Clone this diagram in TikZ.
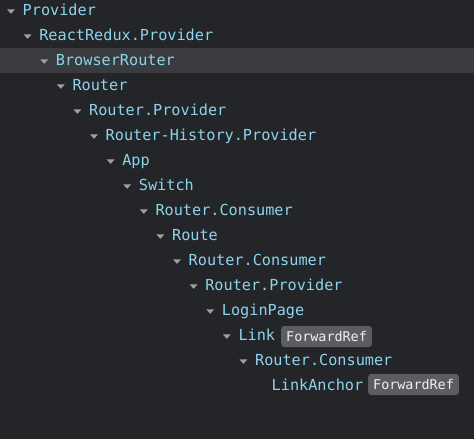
\documentclass[tikz,border=0pt]{standalone}
\usepackage{fontspec}
\setmonofont{DejaVu Sans Mono}
\definecolor{bgc}{HTML}{242529}
\definecolor{hlc}{HTML}{3A3B3F}
\definecolor{namec}{HTML}{8CD4EC}
\definecolor{tric}{HTML}{9EA0A3}
\definecolor{badgec}{HTML}{5B5D61}
\definecolor{badgetc}{HTML}{F0F0F0}
\tikzset{
  comp/.style={anchor=base west, inner sep=0pt, text=namec, font=\ttfamily\fontsize{15.2}{15.2}\selectfont},
  badge/.style={anchor=west, fill=badgec, rounded corners=3pt, text=badgetc, inner xsep=5pt, inner ysep=0pt,
    minimum height=21pt, font=\ttfamily\fontsize{13.4}{13.4}\selectfont},
  tri/.style={fill=tric, draw=none}
}
\begin{document}
\begin{tikzpicture}[x=1pt,y=-1pt]
\fill[bgc] (0,0) rectangle (474,439);
\useasboundingbox (0,0) rectangle (474,439);
\fill[hlc] (0,47.5) rectangle (474,73);
\foreach \lvl/\lab/\nm/\hastri in {
 0/Provider/n0/1,
 1/ReactRedux.Provider/n1/1,
 2/BrowserRouter/n2/1,
 3/Router/n3/1,
 4/Router.Provider/n4/1,
 5/Router-History.Provider/n5/1,
 6/App/n6/1,
 7/Switch/n7/1,
 8/Router.Consumer/n8/1,
 9/Route/n9/1,
 10/Router.Consumer/n10/1,
 11/Router.Provider/n11/1,
 12/LoginPage/n12/1,
 13/Link/n13/1,
 14/Router.Consumer/n14/1,
 15/LinkAnchor/n15/0}{
  \pgfmathsetmacro{\xx}{22.5+16.6*\lvl}
  \pgfmathsetmacro{\yy}{15.6+25*\lvl}
  \node[comp] (\nm) at (\xx,\yy) {\lab};
  \ifnum\hastri=1
    \fill[tri] (\xx-15.5,\yy-6.3) -- (\xx-7.5,\yy-6.3) -- (\xx-11.5,\yy-1.8) -- cycle;
  \fi
}
\node[badge] (b1) at (281,336.5) {ForwardRef};
\node[badge] (b2) at (368,384.5) {ForwardRef};
\end{tikzpicture}
\end{document}
